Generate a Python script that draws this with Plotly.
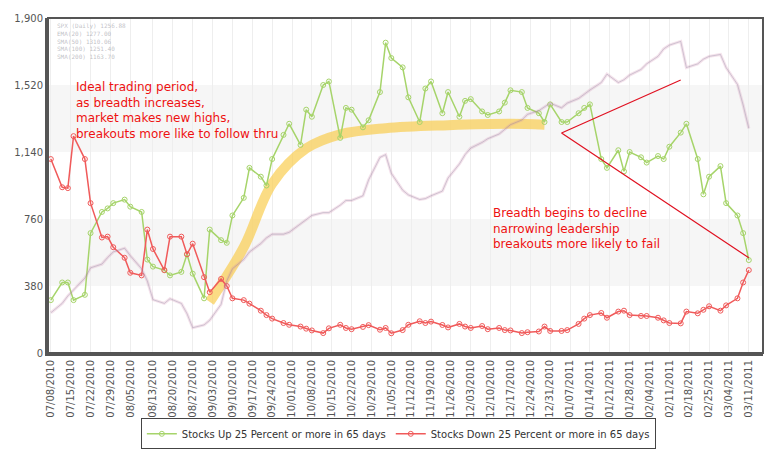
import pandas as pd
from plotly import graph_objects as go

# every second trading day from 07/08/2010
dates = pd.bdate_range("2010-07-08", periods=89, freq="2B")

stocks_up = [300, 400, 400, 300, 330, 680, 800, 820, 850, 870, 830, 800, 530, 490, 470, 440,
             460, 560, 450, 310, 700, 640, 625, 780, 880, 1050, 1000, 950, 1100, 1237, 1300, 1180,
             1380, 1340, 1520, 1540, 1220, 1390, 1380, 1280, 1320, 1480, 1760, 1673, 1620, 1450, 1310, 1500,
             1540, 1360, 1480, 1340, 1430, 1440, 1370, 1350, 1370, 1420, 1490, 1480, 1390, 1360, 1310, 1410,
             1310, 1310, 1360, 1390, 1410, 1100, 1050, 1150, 1030, 1140, 1110, 1080, 1117, 1100, 1170, 1250,
             1300, 1100, 900, 1000, 1060, 850, 780, 680, 527]

stocks_down = [1100, 940, 935, 1230, 1100, 850, 655, 660, 600, 540, 455, 440, 700, 590, 470, 660,
               660, 560, 620, 430, 345, 420, 380, 310, 300, 280, 240, 215, 195, 170, 160, 150,
               138, 128, 113, 140, 160, 142, 135, 148, 158, 132, 142, 112, 130, 160, 180, 170,
               178, 159, 145, 165, 150, 142, 153, 135, 142, 130, 128, 113, 118, 122, 150, 125,
               125, 130, 165, 195, 215, 227, 200, 235, 240, 215, 210, 210, 200, 185, 170, 168,
               235, 225, 245, 265, 240, 270, 310, 400, 470]

spx = [1056, 1066, 1074, 1080, 1093, 1104, 1108, 1115, 1121, 1125, 1117, 1103, 1090, 1070, 1066, 1071,
       1066, 1055, 1040, 1043, 1048, 1065, 1090, 1103, 1113, 1121, 1130, 1136, 1140, 1140, 1142, 1151,
       1156, 1160, 1163, 1163, 1171, 1176, 1176, 1181, 1198, 1222, 1225, 1205, 1187, 1182, 1177, 1178,
       1181, 1186, 1200, 1215, 1225, 1232, 1238, 1242, 1247, 1252, 1257, 1262, 1268, 1272, 1276, 1280,
       1275, 1280, 1285, 1290, 1294, 1302, 1311, 1302, 1305, 1310, 1316, 1322, 1330, 1338, 1342, 1346,
       1318, 1322, 1327, 1330, 1332, 1318, 1300, 1278, 1253]

# hand drawn highlight and trend lines (index into dates)
yellow_idx = [20, 24, 28, 32, 36, 42, 50, 58, 62]
yellow_vals = [290, 600, 960, 1160, 1240, 1275, 1292, 1300, 1295]
trend_idx = [79, 64, 88]
trend_vals = [1548, 1248, 540]

tick_dates = ["2010-07-08", "2010-07-15", "2010-07-22", "2010-07-29", "2010-08-05", "2010-08-13",
              "2010-08-20", "2010-08-27", "2010-09-03", "2010-09-10", "2010-09-17", "2010-09-24",
              "2010-10-01", "2010-10-08", "2010-10-15", "2010-10-22", "2010-10-29", "2010-11-05",
              "2010-11-12", "2010-11-19", "2010-11-26", "2010-12-03", "2010-12-10", "2010-12-17",
              "2010-12-24", "2010-12-31", "2011-01-07", "2011-01-14", "2011-01-21", "2011-01-28",
              "2011-02-04", "2011-02-11", "2011-02-18", "2011-02-25", "2011-03-04", "2011-03-11"]
tick_text = [pd.Timestamp(d).strftime("%m/%d/%Y") for d in tick_dates]
y_ticks = [0, 380, 760, 1140, 1520, 1900]

fig = go.Figure()
fig.add_trace(go.Scatter(x=dates, y=spx, yaxis="y2", mode="lines", showlegend=False,
                         line=dict(color="rgba(210,140,175,0.25)", width=3)))
fig.add_trace(go.Scatter(x=dates, y=spx, yaxis="y2", mode="lines", showlegend=False,
                         line=dict(color="rgba(120,120,150,0.3)", width=1)))
fig.add_trace(go.Scatter(x=[dates[i] for i in yellow_idx], y=yellow_vals, mode="lines",
                         line=dict(color="rgba(250,205,80,0.7)", width=10, shape="spline"),
                         showlegend=False))
fig.add_trace(go.Scatter(x=dates, y=stocks_up, name="Stocks Up 25 Percent or more in 65 days",
                         mode="lines+markers", line=dict(color="#a6d46a", width=1.5),
                         marker=dict(symbol="circle-open", size=5, color="#a6d46a")))
fig.add_trace(go.Scatter(x=dates, y=stocks_down, name="Stocks Down 25 Percent or more in 65 days",
                         mode="lines+markers", line=dict(color="#f05a5a", width=1.5),
                         marker=dict(symbol="circle-open", size=5, color="#f05a5a")))
fig.add_trace(go.Scatter(x=[dates[i] for i in trend_idx], y=trend_vals, mode="lines",
                         line=dict(color="#e01020", width=1.2), showlegend=False))

shapes = []
for lo, hi in [(380, 760), (1140, 1520)]:
    shapes.append(dict(type="rect", xref="paper", x0=0, x1=1, y0=lo, y1=hi,
                       fillcolor="rgba(0,0,0,0.035)", line_width=0, layer="below"))
shapes.append(dict(type="rect", xref="paper", yref="paper", x0=0, x1=1, y0=0, y1=1,
                   line=dict(color="#555555", width=2)))

txt = dict(family="DejaVu Sans", size=12, color="#ee1111")
annotations = [
    dict(x=0.036, y=0.82, xref="paper", yref="paper", xanchor="left", yanchor="top", align="left",
         showarrow=False, font=txt,
         text="Ideal trading period,<br>as breadth increases,<br>market makes new highs,<br>breakouts more like to follow thru"),
    dict(x=0.62, y=0.445, xref="paper", yref="paper", xanchor="left", yanchor="top", align="left",
         showarrow=False, font=txt,
         text="Breadth begins to decline<br>narrowing leadership<br>breakouts more likely to fail"),
    dict(x=0.01, y=0.995, xref="paper", yref="paper", xanchor="left", yanchor="top", align="left",
         showarrow=False, font=dict(family="DejaVu Sans Mono", size=6, color="rgba(150,150,160,0.6)"),
         text="SPX (Daily) 1256.88<br>EMA(20) 1277.00<br>SMA(50) 1310.06<br>SMA(100) 1251.40<br>SMA(200) 1163.70"),
]

fig.update_layout(
    width=773, height=451, margin=dict(l=40, r=18, t=10, b=106, autoexpand=False),
    paper_bgcolor="white", plot_bgcolor="white",
    font=dict(family="DejaVu Sans", size=10, color="#444444"),
    xaxis=dict(range=["2010-07-07", "2011-03-16"], tickvals=tick_dates, ticktext=tick_text,
               tickangle=-90, showgrid=True, gridcolor="#eeeeee", showline=True, automargin=False,
               linecolor="#555555", linewidth=3, ticks="", tickfont=dict(size=10, color="#555555")),
    yaxis=dict(range=[0, 1900], tickvals=y_ticks, tickformat=",", showgrid=False, automargin=False,
               showline=True, linecolor="#555555", linewidth=3, zeroline=False,
               tickfont=dict(size=10, color="#555555")),
    yaxis2=dict(range=[1013, 1371], overlaying="y", visible=False),
    legend=dict(orientation="h", x=0.49, xanchor="center", y=-0.195, yanchor="top",
                bordercolor="#444444", borderwidth=1, font=dict(size=10, color="#333333"),
                itemwidth=30, tracegroupgap=0),
    shapes=shapes, annotations=annotations,
)
fig.write_html("out.html")
